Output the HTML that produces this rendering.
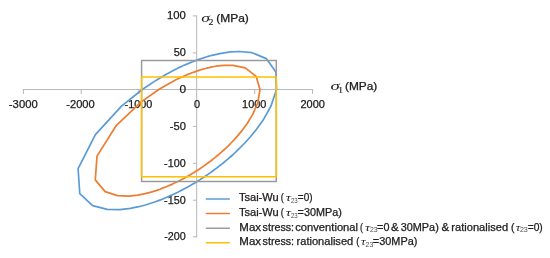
<!DOCTYPE html>
<html><head><meta charset="utf-8"><title>Failure envelopes</title>
<style>
html,body{margin:0;padding:0;background:#fff;}
body{width:550px;height:258px;overflow:hidden;}
svg{display:block;}
text{font-family:"Liberation Sans",sans-serif;fill:#202020;stroke:#202020;stroke-width:0.25px;}
.gk{font-family:"Liberation Serif",serif;font-style:italic;stroke-width:0;}
.gs{font-family:"Liberation Serif",serif;font-style:italic;stroke-width:0;}
.ss{font-family:"Liberation Serif",serif;stroke-width:0.1px;}
.sb{font-family:"Liberation Sans",sans-serif;stroke-width:0;fill:#4d4d4d;}
</style></head><body>
<svg width="550" height="258" viewBox="0 0 550 258">
<rect width="550" height="258" fill="#fff"/>

<g stroke="#bababa" stroke-width="1.05" fill="none">
<path d="M22.8,89.55 H313.1"/>
<path d="M196.65,15.3 V237.4"/>
<path d="M23.4,89.5 V93.9"/>
<path d="M81.2,89.5 V93.9"/>
<path d="M139.0,89.5 V93.9"/>
<path d="M254.7,89.5 V93.9"/>
<path d="M312.5,89.5 V93.9"/>
<path d="M192.8,15.9 H196.6"/>
<path d="M192.8,52.9 H196.6"/>
<path d="M192.8,89.5 H196.6"/>
<path d="M192.8,126.4 H196.6"/>
<path d="M192.8,163.3 H196.6"/>
<path d="M192.8,200.2 H196.6"/>
<path d="M192.8,236.8 H196.6"/>
</g>
<g>
<text class="tk" font-size="10.6" x="8.86" y="108.2" textLength="28.84" lengthAdjust="spacingAndGlyphs">-3000</text>
<text class="tk" font-size="10.6" x="66.32" y="108.2" textLength="28.44" lengthAdjust="spacingAndGlyphs">-2000</text>
<text class="tk" font-size="10.6" x="124.53" y="108.2" textLength="27.79" lengthAdjust="spacingAndGlyphs">-1000</text>
<text class="tk" font-size="10.6" x="194.05" y="108.2" textLength="6.11" lengthAdjust="spacingAndGlyphs">0</text>
<text class="tk" font-size="10.6" x="242.06" y="108.2" textLength="24.37" lengthAdjust="spacingAndGlyphs">1000</text>
<text class="tk" font-size="10.6" x="300.51" y="108.2" textLength="24.44" lengthAdjust="spacingAndGlyphs">2000</text>
<text class="tk" font-size="10.6" x="167.04" y="19.3" textLength="18.85" lengthAdjust="spacingAndGlyphs">100</text>
<text class="tk" font-size="10.6" x="173.67" y="56.3" textLength="12.22" lengthAdjust="spacingAndGlyphs">50</text>
<text class="tk" font-size="10.6" x="179.42" y="92.9" textLength="6.58" lengthAdjust="spacingAndGlyphs">0</text>
<text class="tk" font-size="10.6" x="169.85" y="129.8" textLength="16.1" lengthAdjust="spacingAndGlyphs">-50</text>
<text class="tk" font-size="10.6" x="164.14" y="166.7" textLength="21.63" lengthAdjust="spacingAndGlyphs">-100</text>
<text class="tk" font-size="10.6" x="164.14" y="203.6" textLength="21.63" lengthAdjust="spacingAndGlyphs">-150</text>
<text class="tk" font-size="10.6" x="164.25" y="240.2" textLength="21.48" lengthAdjust="spacingAndGlyphs">-200</text>
</g>
<g fill="none" stroke-width="1.5" stroke-linejoin="round" stroke-linecap="round">
<path d="M276.5,89.5 L275.9,71.9 L266.3,58.6 L252.0,52.7 L239.5,51.5 L230.5,51.9 L224.2,52.8 L219.8,53.6 L216.5,54.3 L214.0,54.9 L212.0,55.4 L210.4,55.8 L209.1,56.1 L208.0,56.4 L207.1,56.7 L206.3,57.0 L205.7,57.2 L205.1,57.3 L204.5,57.5 L204.1,57.7 L203.6,57.8 L203.3,57.9 L202.9,58.0 L202.6,58.1 L202.3,58.2 L202.1,58.3 L201.8,58.4 L201.6,58.5 L201.4,58.5 L201.2,58.6 L201.0,58.7 L200.8,58.7 L200.7,58.8 L200.5,58.8 L200.4,58.9 L200.2,58.9 L200.1,59.0 L200.0,59.0 L199.9,59.1 L199.7,59.1 L199.6,59.1 L199.5,59.2 L199.4,59.2 L199.3,59.2 L199.3,59.3 L199.2,59.3 L199.1,59.3 L199.0,59.3 L198.9,59.4 L198.9,59.4 L198.8,59.4 L198.7,59.5 L198.6,59.5 L198.6,59.5 L198.5,59.5 L198.4,59.5 L198.4,59.6 L198.3,59.6 L198.3,59.6 L198.2,59.6 L198.2,59.7 L198.1,59.7 L198.0,59.7 L198.0,59.7 L197.9,59.7 L197.9,59.7 L197.8,59.8 L197.8,59.8 L197.7,59.8 L197.7,59.8 L197.6,59.8 L197.6,59.8 L197.6,59.9 L197.5,59.9 L197.5,59.9 L197.4,59.9 L197.4,59.9 L197.3,59.9 L197.3,60.0 L197.3,60.0 L197.2,60.0 L197.2,60.0 L197.1,60.0 L197.1,60.0 L197.0,60.1 L197.0,60.1 L197.0,60.1 L196.9,60.1 L196.9,60.1 L196.8,60.1 L196.8,60.1 L196.8,60.2 L196.7,60.2 L196.7,60.2 L196.6,60.2 L196.6,60.2 L196.6,60.2 L196.5,60.2 L196.5,60.3 L196.4,60.3 L196.4,60.3 L196.4,60.3 L196.3,60.3 L196.3,60.3 L196.2,60.3 L196.2,60.4 L196.1,60.4 L196.1,60.4 L196.1,60.4 L196.0,60.4 L196.0,60.4 L195.9,60.5 L195.9,60.5 L195.8,60.5 L195.8,60.5 L195.7,60.5 L195.7,60.5 L195.6,60.6 L195.6,60.6 L195.5,60.6 L195.5,60.6 L195.4,60.6 L195.4,60.7 L195.3,60.7 L195.3,60.7 L195.2,60.7 L195.2,60.7 L195.1,60.8 L195.0,60.8 L195.0,60.8 L194.9,60.8 L194.8,60.9 L194.8,60.9 L194.7,60.9 L194.6,60.9 L194.6,61.0 L194.5,61.0 L194.4,61.0 L194.3,61.1 L194.2,61.1 L194.1,61.1 L194.1,61.2 L194.0,61.2 L193.9,61.2 L193.8,61.3 L193.6,61.3 L193.5,61.4 L193.4,61.4 L193.3,61.5 L193.1,61.5 L193.0,61.6 L192.9,61.6 L192.7,61.7 L192.5,61.8 L192.3,61.8 L192.2,61.9 L191.9,62.0 L191.7,62.1 L191.5,62.2 L191.2,62.3 L191.0,62.4 L190.6,62.5 L190.3,62.7 L189.9,62.8 L189.5,63.0 L189.1,63.2 L188.6,63.4 L188.0,63.6 L187.3,63.9 L186.6,64.2 L185.7,64.6 L184.7,65.0 L183.4,65.6 L182.0,66.3 L180.1,67.1 L177.7,68.3 L174.7,69.8 L170.5,71.9 L164.6,75.2 L155.9,80.4 L142.3,89.5 L121.5,106.2 L95.4,134.6 L78.1,168.7 L79.8,193.7 L92.6,205.6 L107.2,209.4 L120.0,209.6 L130.4,208.4 L138.7,206.7 L145.4,205.0 L150.8,203.3 L155.3,201.8 L159.1,200.4 L162.3,199.2 L165.0,198.0 L167.4,197.0 L169.4,196.1 L171.2,195.3 L172.8,194.6 L174.3,193.9 L175.6,193.3 L176.7,192.7 L177.8,192.2 L178.8,191.7 L179.7,191.3 L180.5,190.8 L181.2,190.5 L181.9,190.1 L182.6,189.8 L183.2,189.4 L183.8,189.1 L184.3,188.8 L184.8,188.6 L185.3,188.3 L185.7,188.1 L186.2,187.8 L186.6,187.6 L187.0,187.4 L187.3,187.2 L187.7,187.0 L188.0,186.8 L188.3,186.6 L188.6,186.5 L188.9,186.3 L189.2,186.1 L189.5,186.0 L189.7,185.8 L190.0,185.7 L190.2,185.5 L190.5,185.4 L190.7,185.3 L190.9,185.2 L191.1,185.0 L191.4,184.9 L191.6,184.8 L191.8,184.7 L192.0,184.6 L192.1,184.5 L192.3,184.3 L192.5,184.2 L192.7,184.1 L192.9,184.0 L193.0,183.9 L193.2,183.8 L193.3,183.7 L193.5,183.6 L193.7,183.6 L193.8,183.5 L194.0,183.4 L194.1,183.3 L194.3,183.2 L194.4,183.1 L194.6,183.0 L194.7,182.9 L194.8,182.8 L195.0,182.8 L195.1,182.7 L195.2,182.6 L195.4,182.5 L195.5,182.4 L195.6,182.4 L195.8,182.3 L195.9,182.2 L196.0,182.1 L196.2,182.0 L196.3,182.0 L196.4,181.9 L196.5,181.8 L196.7,181.7 L196.8,181.7 L196.9,181.6 L197.1,181.5 L197.2,181.4 L197.3,181.3 L197.4,181.3 L197.6,181.2 L197.7,181.1 L197.8,181.0 L197.9,180.9 L198.1,180.9 L198.2,180.8 L198.3,180.7 L198.5,180.6 L198.6,180.5 L198.7,180.5 L198.8,180.4 L199.0,180.3 L199.1,180.2 L199.3,180.1 L199.4,180.0 L199.5,180.0 L199.7,179.9 L199.8,179.8 L200.0,179.7 L200.1,179.6 L200.2,179.5 L200.4,179.4 L200.5,179.3 L200.7,179.2 L200.9,179.1 L201.0,179.0 L201.2,178.9 L201.4,178.8 L201.5,178.7 L201.7,178.6 L201.9,178.4 L202.1,178.3 L202.2,178.2 L202.4,178.1 L202.6,178.0 L202.8,177.8 L203.0,177.7 L203.2,177.5 L203.5,177.4 L203.7,177.3 L203.9,177.1 L204.2,176.9 L204.4,176.8 L204.7,176.6 L204.9,176.4 L205.2,176.2 L205.5,176.0 L205.8,175.8 L206.1,175.6 L206.4,175.4 L206.8,175.2 L207.1,174.9 L207.5,174.7 L207.9,174.4 L208.3,174.1 L208.7,173.8 L209.2,173.5 L209.7,173.2 L210.2,172.8 L210.8,172.4 L211.3,172.0 L212.0,171.5 L212.6,171.0 L213.4,170.5 L214.2,169.9 L215.0,169.3 L215.9,168.6 L216.9,167.9 L218.0,167.0 L219.2,166.1 L220.6,165.0 L222.1,163.8 L223.8,162.5 L225.6,160.9 L227.8,159.1 L230.3,157.0 L233.1,154.5 L236.4,151.4 L240.2,147.7 L244.8,143.0 L250.2,137.0 L256.5,129.3 L263.7,119.2 L271.0,106.0Z" stroke="#5b9bd5" stroke-width="1.7"/>
<path d="M260.0,89.5 L256.1,76.3 L245.3,67.9 L233.1,65.3 L224.0,65.3 L218.0,65.9 L214.0,66.5 L211.1,67.1 L209.1,67.6 L207.5,67.9 L206.3,68.2 L205.3,68.5 L204.5,68.7 L203.8,68.9 L203.2,69.1 L202.7,69.2 L202.3,69.3 L202.0,69.4 L201.6,69.5 L201.3,69.6 L201.1,69.7 L200.8,69.8 L200.6,69.8 L200.4,69.9 L200.2,70.0 L200.1,70.0 L199.9,70.1 L199.8,70.1 L199.7,70.1 L199.5,70.2 L199.4,70.2 L199.3,70.2 L199.2,70.3 L199.1,70.3 L199.0,70.3 L198.9,70.4 L198.9,70.4 L198.8,70.4 L198.7,70.4 L198.6,70.5 L198.6,70.5 L198.5,70.5 L198.5,70.5 L198.4,70.5 L198.3,70.6 L198.3,70.6 L198.2,70.6 L198.2,70.6 L198.1,70.6 L198.1,70.6 L198.0,70.7 L198.0,70.7 L198.0,70.7 L197.9,70.7 L197.9,70.7 L197.8,70.7 L197.8,70.7 L197.8,70.8 L197.7,70.8 L197.7,70.8 L197.6,70.8 L197.6,70.8 L197.6,70.8 L197.5,70.8 L197.5,70.8 L197.5,70.8 L197.5,70.9 L197.4,70.9 L197.4,70.9 L197.4,70.9 L197.3,70.9 L197.3,70.9 L197.3,70.9 L197.2,70.9 L197.2,70.9 L197.2,70.9 L197.2,70.9 L197.1,71.0 L197.1,71.0 L197.1,71.0 L197.1,71.0 L197.0,71.0 L197.0,71.0 L197.0,71.0 L197.0,71.0 L196.9,71.0 L196.9,71.0 L196.9,71.0 L196.9,71.1 L196.8,71.1 L196.8,71.1 L196.8,71.1 L196.7,71.1 L196.7,71.1 L196.7,71.1 L196.7,71.1 L196.6,71.1 L196.6,71.1 L196.6,71.1 L196.6,71.1 L196.5,71.2 L196.5,71.2 L196.5,71.2 L196.5,71.2 L196.4,71.2 L196.4,71.2 L196.4,71.2 L196.4,71.2 L196.3,71.2 L196.3,71.2 L196.3,71.2 L196.3,71.3 L196.2,71.3 L196.2,71.3 L196.2,71.3 L196.1,71.3 L196.1,71.3 L196.1,71.3 L196.0,71.3 L196.0,71.3 L196.0,71.4 L195.9,71.4 L195.9,71.4 L195.9,71.4 L195.8,71.4 L195.8,71.4 L195.8,71.4 L195.7,71.4 L195.7,71.5 L195.7,71.5 L195.6,71.5 L195.6,71.5 L195.5,71.5 L195.5,71.5 L195.4,71.5 L195.4,71.6 L195.3,71.6 L195.3,71.6 L195.2,71.6 L195.2,71.6 L195.1,71.6 L195.1,71.7 L195.0,71.7 L194.9,71.7 L194.9,71.7 L194.8,71.8 L194.7,71.8 L194.7,71.8 L194.6,71.8 L194.5,71.9 L194.4,71.9 L194.3,71.9 L194.2,72.0 L194.1,72.0 L194.0,72.1 L193.9,72.1 L193.7,72.1 L193.6,72.2 L193.4,72.3 L193.3,72.3 L193.1,72.4 L192.9,72.4 L192.7,72.5 L192.5,72.6 L192.2,72.7 L191.9,72.8 L191.6,72.9 L191.2,73.1 L190.8,73.2 L190.3,73.4 L189.7,73.7 L189.1,73.9 L188.3,74.2 L187.3,74.6 L186.1,75.2 L184.5,75.8 L182.5,76.7 L179.6,78.0 L175.5,80.0 L169.2,83.4 L158.8,89.5 L141.2,101.9 L116.4,125.3 L97.0,156.1 L95.3,179.9 L105.1,191.6 L117.5,195.6 L128.6,196.1 L137.8,195.1 L145.2,193.6 L151.1,192.1 L156.0,190.6 L160.0,189.2 L163.3,187.9 L166.2,186.8 L168.6,185.8 L170.7,184.9 L172.5,184.1 L174.1,183.3 L175.6,182.6 L176.8,182.0 L178.0,181.4 L179.0,180.9 L180.0,180.4 L180.8,180.0 L181.6,179.6 L182.4,179.2 L183.0,178.8 L183.7,178.5 L184.2,178.2 L184.8,177.9 L185.3,177.6 L185.8,177.3 L186.2,177.1 L186.6,176.8 L187.0,176.6 L187.4,176.4 L187.8,176.2 L188.1,176.0 L188.4,175.8 L188.7,175.6 L189.0,175.5 L189.3,175.3 L189.6,175.2 L189.8,175.0 L190.1,174.9 L190.3,174.7 L190.6,174.6 L190.8,174.4 L191.0,174.3 L191.2,174.2 L191.4,174.1 L191.6,173.9 L191.8,173.8 L192.0,173.7 L192.2,173.6 L192.4,173.5 L192.5,173.4 L192.7,173.3 L192.9,173.2 L193.0,173.1 L193.2,173.0 L193.3,172.9 L193.5,172.8 L193.6,172.7 L193.8,172.6 L193.9,172.6 L194.0,172.5 L194.2,172.4 L194.3,172.3 L194.4,172.2 L194.6,172.1 L194.7,172.1 L194.8,172.0 L194.9,171.9 L195.1,171.8 L195.2,171.7 L195.3,171.7 L195.4,171.6 L195.5,171.5 L195.7,171.4 L195.8,171.4 L195.9,171.3 L196.0,171.2 L196.1,171.2 L196.2,171.1 L196.4,171.0 L196.5,170.9 L196.6,170.9 L196.7,170.8 L196.8,170.7 L196.9,170.6 L197.0,170.6 L197.1,170.5 L197.2,170.4 L197.4,170.4 L197.5,170.3 L197.6,170.2 L197.7,170.1 L197.8,170.1 L197.9,170.0 L198.0,169.9 L198.1,169.9 L198.3,169.8 L198.4,169.7 L198.5,169.6 L198.6,169.5 L198.7,169.5 L198.8,169.4 L199.0,169.3 L199.1,169.2 L199.2,169.2 L199.3,169.1 L199.4,169.0 L199.6,168.9 L199.7,168.8 L199.8,168.7 L200.0,168.6 L200.1,168.6 L200.2,168.5 L200.4,168.4 L200.5,168.3 L200.7,168.2 L200.8,168.1 L201.0,168.0 L201.1,167.9 L201.3,167.8 L201.4,167.7 L201.6,167.5 L201.8,167.4 L201.9,167.3 L202.1,167.2 L202.3,167.1 L202.5,166.9 L202.7,166.8 L202.9,166.7 L203.1,166.5 L203.3,166.4 L203.5,166.2 L203.7,166.1 L204.0,165.9 L204.2,165.7 L204.4,165.6 L204.7,165.4 L205.0,165.2 L205.3,165.0 L205.6,164.8 L205.9,164.5 L206.2,164.3 L206.5,164.1 L206.9,163.8 L207.3,163.5 L207.7,163.2 L208.1,162.9 L208.6,162.6 L209.0,162.2 L209.6,161.8 L210.1,161.4 L210.7,161.0 L211.3,160.5 L212.0,160.0 L212.7,159.4 L213.5,158.7 L214.4,158.1 L215.4,157.3 L216.4,156.4 L217.6,155.5 L218.9,154.4 L220.3,153.1 L221.9,151.7 L223.8,150.0 L225.9,148.1 L228.3,145.8 L231.0,143.0 L234.3,139.6 L238.0,135.4 L242.4,130.1 L247.4,123.3 L252.7,114.4 L257.7,103.0Z" stroke="#ed7d31" stroke-width="1.7"/>
<path d="M141.6,60.5 H276.3 V181.4 H141.6 Z" stroke="#9b9b9b"/>
<path d="M141.6,76.9 H276.3 V176.65 H141.6 Z" stroke="#ffc000"/>
<path d="M206.3,198.9 H229.3" stroke="#5b9bd5"/>
<path d="M206.3,213.6 H229.3" stroke="#ed7d31"/>
<path d="M206.3,228.2 H229.3" stroke="#9b9b9b"/>
<path d="M206.3,242.8 H229.3" stroke="#ffc000"/>
</g>
<text><tspan class="gs" font-size="13" x="201.23" y="22.0" textLength="8.71" lengthAdjust="spacingAndGlyphs">σ</tspan><tspan class="ss" font-size="8" x="208.57" y="24.6" textLength="4.92" lengthAdjust="spacingAndGlyphs">2</tspan> <tspan class="lg" font-size="10.2" x="216.31" y="22.0" textLength="32.56" lengthAdjust="spacingAndGlyphs">(MPa)</tspan></text>
<text><tspan class="gs" font-size="13" x="330.59" y="89.6" textLength="9.3" lengthAdjust="spacingAndGlyphs">σ</tspan><tspan class="ss" font-size="8" x="337.98" y="92.6" textLength="5.15" lengthAdjust="spacingAndGlyphs">1</tspan> <tspan class="lg" font-size="10.2" x="344.93" y="89.6" textLength="32.35" lengthAdjust="spacingAndGlyphs">(MPa)</tspan></text>
<text><tspan class="lg" font-size="10.2" x="238.92" y="201.4" textLength="39.82" lengthAdjust="spacingAndGlyphs">Tsai-Wu</tspan> <tspan class="lg" font-size="10.2" x="280.76" y="201.4" textLength="3.03" lengthAdjust="spacingAndGlyphs">(</tspan> <tspan class="gk" font-size="10.5" x="285.87" y="201.4" textLength="5.23" lengthAdjust="spacingAndGlyphs">τ</tspan><tspan class="sb" font-size="8" x="290.9" y="202.9" textLength="6.75" lengthAdjust="spacingAndGlyphs">23</tspan><tspan class="lg" font-size="10.2" x="297.85" y="201.4" textLength="14.68" lengthAdjust="spacingAndGlyphs">=0)</tspan></text>
<text><tspan class="lg" font-size="10.2" x="238.92" y="216.0" textLength="39.82" lengthAdjust="spacingAndGlyphs">Tsai-Wu</tspan> <tspan class="lg" font-size="10.2" x="280.76" y="216.0" textLength="3.03" lengthAdjust="spacingAndGlyphs">(</tspan> <tspan class="gk" font-size="10.5" x="285.87" y="216.0" textLength="5.23" lengthAdjust="spacingAndGlyphs">τ</tspan><tspan class="sb" font-size="8" x="290.9" y="217.5" textLength="6.75" lengthAdjust="spacingAndGlyphs">23</tspan><tspan class="lg" font-size="10.2" x="297.6" y="216.0" textLength="44.15" lengthAdjust="spacingAndGlyphs">=30MPa)</tspan></text>
<text><tspan class="lg" font-size="10.2" x="239.38" y="230.7" textLength="21.65" lengthAdjust="spacingAndGlyphs">Max</tspan> <tspan class="lg" font-size="10.2" x="262.57" y="230.7" textLength="31.53" lengthAdjust="spacingAndGlyphs">stress:</tspan> <tspan class="lg" font-size="10.2" x="295.28" y="230.7" textLength="62.78" lengthAdjust="spacingAndGlyphs">conventional</tspan> <tspan class="lg" font-size="10.2" x="359.93" y="230.7" textLength="2.98" lengthAdjust="spacingAndGlyphs">(</tspan> <tspan class="gk" font-size="10.5" x="364.94" y="230.7" textLength="5.14" lengthAdjust="spacingAndGlyphs">τ</tspan><tspan class="sb" font-size="8" x="369.94" y="232.2" textLength="7.65" lengthAdjust="spacingAndGlyphs">23</tspan><tspan class="lg" font-size="10.2" x="377.11" y="230.7" textLength="12.32" lengthAdjust="spacingAndGlyphs">=0</tspan> <tspan class="lg" font-size="10.2" x="391.14" y="230.7" textLength="7.76" lengthAdjust="spacingAndGlyphs">&amp;</tspan> <tspan class="lg" font-size="10.2" x="400.73" y="230.7" textLength="38.03" lengthAdjust="spacingAndGlyphs">30MPa)</tspan> <tspan class="lg" font-size="10.2" x="441.54" y="230.7" textLength="7.72" lengthAdjust="spacingAndGlyphs">&amp;</tspan> <tspan class="lg" font-size="10.2" x="451.37" y="230.7" textLength="56.69" lengthAdjust="spacingAndGlyphs">rationalised</tspan> <tspan class="lg" font-size="10.2" x="511.09" y="230.7" textLength="3.48" lengthAdjust="spacingAndGlyphs">(</tspan> <tspan class="gk" font-size="10.5" x="515.66" y="230.7" textLength="4.62" lengthAdjust="spacingAndGlyphs">τ</tspan><tspan class="sb" font-size="8" x="519.92" y="232.2" textLength="7.92" lengthAdjust="spacingAndGlyphs">23</tspan><tspan class="lg" font-size="10.2" x="527.7" y="230.7" textLength="15.08" lengthAdjust="spacingAndGlyphs">=0)</tspan></text>
<text><tspan class="lg" font-size="10.2" x="239.38" y="245.4" textLength="21.65" lengthAdjust="spacingAndGlyphs">Max</tspan> <tspan class="lg" font-size="10.2" x="262.57" y="245.4" textLength="31.53" lengthAdjust="spacingAndGlyphs">stress:</tspan> <tspan class="lg" font-size="10.2" x="296.6" y="245.4" textLength="56.61" lengthAdjust="spacingAndGlyphs">rationalised</tspan> <tspan class="lg" font-size="10.2" x="356.19" y="245.4" textLength="3.13" lengthAdjust="spacingAndGlyphs">(</tspan> <tspan class="gk" font-size="10.5" x="361.13" y="245.4" textLength="4.58" lengthAdjust="spacingAndGlyphs">τ</tspan><tspan class="sb" font-size="8" x="365.48" y="246.9" textLength="7.83" lengthAdjust="spacingAndGlyphs">23</tspan><tspan class="lg" font-size="10.2" x="372.88" y="245.4" textLength="44.5" lengthAdjust="spacingAndGlyphs">=30MPa)</tspan></text>
</svg></body></html>
